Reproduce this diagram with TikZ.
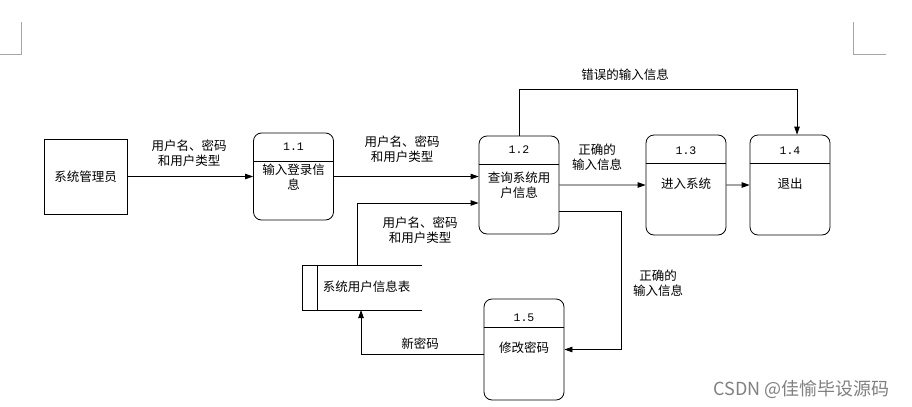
\documentclass[tikz,border=0pt]{standalone}
\usepackage{fontspec}
\newfontfamily\cjk{Noto Sans CJK SC}
\newfontfamily\monofont{Liberation Mono}
\usetikzlibrary{arrows.meta,calc}

\begin{document}
\begin{tikzpicture}[scale=0.35146, line width=0.8pt,
  lbl/.style={font=\cjk\fontsize{12.5}{15}\selectfont, align=center},
  num/.style={font=\monofont\fontsize{11.5}{13}\selectfont},
  proc/.style={draw, rounded corners=8pt, minimum width=80pt},
  arr/.style={-{Triangle[length=8pt,width=5.5pt]}}]
\tikzstyle{every node}+=[inner sep=0pt]
\useasboundingbox (0,0) rectangle (91.2,-40.6);
% page corner marks
\draw [gray!70] (0,-5.4) -- (2.1,-5.4) -- (2.1,-2.2);
\draw [gray!70] (88.6,-5.4) -- (85.3,-5.4) -- (85.3,-2.2);
% external entity
\node [draw, lbl, minimum width=83pt, minimum height=75pt] (mgr) at (8.55,-17.65) {系统管理员};
% processes
\node [proc, minimum height=87pt] (p11) at (29.35,-17.65) {};
\node [proc, minimum height=98pt] (p12) at (51.9,-18.5) {};
\node [proc, minimum height=100pt] (p13) at (68.6,-18.5) {};
\node [proc, minimum height=100pt] (p14) at (79.0,-18.5) {};
\node [proc, minimum height=101pt] (p15) at (52.4,-34.95) {};
\foreach \p in {p11,p12,p13,p14,p15}
  \draw ($(\p.north west)+(0,-2.9)$) -- ($(\p.north east)+(0,-2.9)$);
\draw (29.35,-14.7) node [num] (n11) {1.1};
\draw (29.35,-17.75) node [lbl] (t11) {输入登录信\\息};
\draw (51.9,-15.0) node [num] (n12) {1.2};
\draw (51.9,-18.55) node [lbl] (t12) {查询系统用\\户信息};
\draw (68.6,-15.1) node [num] (n13) {1.3};
\draw (68.6,-18.4) node [lbl] (t13) {进入系统};
\draw (79.0,-15.1) node [num] (n14) {1.4};
\draw (79.0,-18.4) node [lbl] (t14) {退出};
\draw (52.4,-31.8) node [num] (n15) {1.5};
\draw (52.4,-34.8) node [lbl] (t15) {修改密码};
% data store
\draw (42.2,-26.5) -- (30.2,-26.5) -- (30.2,-31.0) -- (42.2,-31.0);
\draw (31.7,-26.5) -- (31.7,-31.0);
\node [lbl] (db) at (36.65,-28.7) {系统用户信息表};
\coordinate (dbtop) at (35.7,-26.5);
\coordinate (dbbot) at (36.1,-31.0);
\coordinate (c14) at (79.7,-8.9);
\coordinate (c15) at (62.1,-34.95);
% flows
\draw [arr] (mgr) -- (p11);
\draw [arr] (p11.east) -- (p11.east -| p12.west);
\draw [arr] (dbtop) |- ($(p12.west)+(0,-1.8)$);
\draw [arr] (p12.north) |- (c14) -- (p14.north -| c14);
\draw [arr] (p12) -- (p13);
\draw [arr] (p13) -- (p14);
\draw [arr] ($(p12.east)+(0,-2.6)$) -| (c15) -- (p15.east);
\draw [arr] ($(p15.west)+(0,-0.45)$) -| (dbbot);
% flow labels
\draw (18.9,-15.3) node [lbl] (l1) {用户名、密码\\和用户类型};
\draw (40.2,-14.9) node [lbl] (l2) {用户名、密码\\和用户类型};
\draw (42.0,-23.05) node [lbl] (l3) {用户名、密码\\和用户类型};
\draw (59.7,-15.7) node [lbl] (l4) {正确的\\输入信息};
\draw (62.5,-7.5) node [lbl] (l5) {错误的输入信息};
\draw (65.8,-28.3) node [lbl] (l6) {正确的\\输入信息};
\draw (42.0,-34.4) node [lbl] (l7) {新密码};
\draw (80.15,-38.9) node [font=\cjk\fontsize{18}{20}\selectfont, text=gray] (wm) {CSDN @佳愉毕设源码};
\end{tikzpicture}
\end{document}
